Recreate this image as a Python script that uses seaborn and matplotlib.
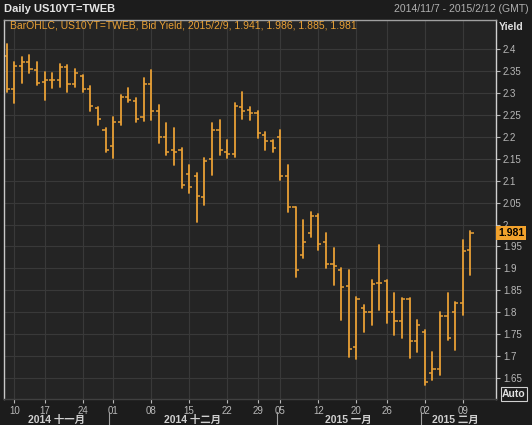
import numpy as np
import pandas as pd
import matplotlib
matplotlib.use("Agg")
import matplotlib.pyplot as plt
import matplotlib.transforms as mtransforms
import seaborn as sns
from matplotlib.ticker import FuncFormatter, FixedLocator

# Daily OHLC of US10YT=TWEB bid yield, 2014/11/7 - 2015/2/9
opens = [2.385, 2.31, 2.362, 2.372, 2.352, 2.325, 2.33, 2.33, 2.36, 2.32,
         2.34, 2.31, 2.265, 2.215, 2.18, 2.235, 2.29, 2.282, 2.245, 2.32,
         2.26, 2.20, 2.17, 2.17, 2.115, 2.11, 2.063, 2.15, 2.215, 2.165,
         2.16, 2.268, 2.262, 2.255, 2.205, 2.19, 2.20, 2.11, 2.04, 1.93,
         1.98, 2.02, 1.96, 1.91, 1.895, 1.86, 1.72, 1.81, 1.80, 1.867,
         1.87, 1.80, 1.78, 1.83, 1.735, 1.755, 1.66, 1.67, 1.79, 1.80,
         1.82, 1.941]
highs = [2.412, 2.371, 2.382, 2.387, 2.371, 2.349, 2.346, 2.366, 2.364, 2.355,
         2.341, 2.316, 2.269, 2.22, 2.246, 2.296, 2.311, 2.288, 2.334, 2.353,
         2.273, 2.231, 2.22, 2.175, 2.136, 2.118, 2.152, 2.232, 2.239, 2.193,
         2.277, 2.303, 2.269, 2.258, 2.212, 2.193, 2.216, 2.136, 2.041, 2.01,
         2.029, 2.025, 1.98, 1.946, 1.90, 1.896, 1.835, 1.816, 1.873, 1.953,
         1.873, 1.843, 1.832, 1.832, 1.782, 1.759, 1.709, 1.80, 1.843, 1.824,
         1.965, 1.986]
lows = [2.303, 2.277, 2.323, 2.346, 2.318, 2.284, 2.312, 2.314, 2.303, 2.314,
        2.303, 2.258, 2.227, 2.166, 2.151, 2.227, 2.28, 2.235, 2.236, 2.239,
        2.185, 2.159, 2.136, 2.083, 2.072, 2.006, 2.045, 2.113, 2.159, 2.152,
        2.155, 2.242, 2.239, 2.197, 2.17, 2.166, 2.102, 2.029, 1.881, 1.923,
        1.972, 1.942, 1.90, 1.862, 1.782, 1.698, 1.694, 1.754, 1.77, 1.805,
        1.775, 1.748, 1.74, 1.695, 1.709, 1.634, 1.645, 1.656, 1.737, 1.713,
        1.794, 1.885]
closes = [2.309, 2.362, 2.37, 2.355, 2.322, 2.33, 2.33, 2.36, 2.32, 2.345,
          2.31, 2.27, 2.24, 2.17, 2.235, 2.29, 2.285, 2.24, 2.32, 2.26,
          2.20, 2.165, 2.165, 2.09, 2.085, 2.065, 2.145, 2.215, 2.17, 2.16,
          2.27, 2.26, 2.255, 2.21, 2.19, 2.175, 2.11, 2.04, 1.895, 1.96,
          2.02, 1.955, 1.91, 1.905, 1.858, 1.715, 1.83, 1.80, 1.865, 1.866,
          1.80, 1.78, 1.83, 1.735, 1.77, 1.64, 1.67, 1.79, 1.742, 1.82,
          1.94, 1.981]

day_ticks = [1, 5, 10, 14, 19, 24, 29, 33, 36, 41, 46, 50, 55, 60]
day_labels = ["10", "17", "24", "01", "08", "15", "22", "29",
              "05", "12", "20", "26", "02", "09"]
yield_ticks = [1.65, 1.7, 1.75, 1.8, 1.85, 1.9, 1.95, 2.0,
               2.05, 2.1, 2.15, 2.2, 2.25, 2.3, 2.35, 2.4]
month_first_bar = [0, 14, 36, 55]
month_labels = ["2014 十一月", "2014 十二月", "2015 一月", "2015 二月"]
last_price = 1.981

BG = "#1c1c1c"
PANEL = "#242424"
GRID = "#393939"
ORANGE = "#e9a035"
TXT = "#b8b8b8"

sns.set_theme(style="dark", rc={"axes.facecolor": PANEL, "figure.facecolor": BG})
plt.rcParams["font.family"] = ["Liberation Sans", "Noto Sans CJK SC"]

W, H = 532, 425
fig = plt.figure(figsize=(W / 100, H / 100), dpi=100, facecolor=BG)
ax = fig.add_axes([4 / W, 1 - 399 / H, 492 / W, 379 / H])
ax.set_facecolor(PANEL)

idx = np.arange(len(highs))
n = len(idx)

# high-low lines, one unit per bar
wicks = pd.DataFrame({
    "x": np.repeat(idx, 2),
    "value": np.column_stack([lows, highs]).ravel(),
    "bar": np.repeat(idx, 2),
})
sns.lineplot(data=wicks, x="x", y="value", units="bar", estimator=None,
             sort=False, color=ORANGE, lw=1.3, ax=ax, legend=False)
# open (left) and close (right) ticks
ax.hlines(opens, idx - 0.42, idx, color=ORANGE, lw=1.1)
ax.hlines(closes, idx, idx + 0.42, color=ORANGE, lw=1.1)

ax.set_xlim(-0.355, 64.38)
ax.set_ylim(1.6016, 2.4669)
ax.set_xlabel("")
ax.set_ylabel("")

ax.yaxis.tick_right()
ax.yaxis.set_major_locator(FixedLocator(yield_ticks))
ax.yaxis.set_major_formatter(FuncFormatter(lambda v, p: f"{round(v, 2):g}"))
ax.set_xticks(day_ticks)
ax.set_xticklabels(day_labels)
ax.tick_params(axis="both", colors=TXT, labelsize=7, length=3, width=0.8,
               direction="out", pad=2)
ax.tick_params(axis="y", labelright=True, labelleft=False, right=True, left=False)
ax.tick_params(axis="x", bottom=True)
ax.grid(True, color=GRID, lw=0.8)

for side, col in [("left", "#c8c8c8"), ("top", "#a0a0a0"),
                  ("right", "#d0d0d0"), ("bottom", "#404040")]:
    ax.spines[side].set_visible(True)
    ax.spines[side].set_color(col)
    ax.spines[side].set_linewidth(1.0)

# month row
trans = mtransforms.blended_transform_factory(ax.transData, ax.transAxes)
bounds = month_first_bar + [n]
for k, lab in enumerate(month_labels):
    if k > 0:
        sep = month_first_bar[k] - 0.5
        ax.plot([sep, sep], [-0.035, -0.072], transform=trans, color="#a0a0a0",
                lw=0.8, clip_on=False)
    if k < len(month_labels) - 1:
        ax.text((bounds[k] + bounds[k + 1] - 1) / 2, -0.056, lab, transform=trans,
                ha="center", va="center", fontsize=7.5, color="#d0d0d0",
                fontweight="bold")
    else:
        ax.text(month_first_bar[k] + 0.9, -0.056, lab, transform=trans,
                ha="left", va="center", fontsize=7.5, color="#d0d0d0",
                fontweight="bold")

# last price marker on the right axis
ltrans = mtransforms.blended_transform_factory(ax.transAxes, ax.transData)
ax.text(1.004, last_price, f"{last_price:.3f}", transform=ltrans, ha="left",
        va="center", fontsize=7.5, fontweight="bold", color="black",
        bbox=dict(boxstyle="square,pad=0.2", fc="#f2a22c", ec="none"),
        clip_on=False, zorder=5)

# header texts
fig.text(4 / W, 1 - 9 / H, "Daily US10YT=TWEB", ha="left", va="center",
         fontsize=8, fontweight="bold", color="#e4e4e4")
fig.text(529 / W, 1 - 9 / H, "2014/11/7 - 2015/2/12 (GMT)", ha="right",
         va="center", fontsize=7.5, color="#b0b0b0")
fig.text(10 / W, 1 - 26 / H,
         "BarOHLC, US10YT=TWEB, Bid Yield, 2015/2/9, 1.941, 1.986, 1.885, 1.981",
         ha="left", va="center", fontsize=7.5, color=ORANGE)
fig.text(499 / W, 1 - 27 / H, "Yield", ha="left", va="center", fontsize=7.5,
         fontweight="bold", color="#e0e0e0")
fig.text(514 / W, 1 - 394 / H, "Auto", ha="center", va="center", fontsize=7.5,
         fontweight="bold", color="#e0e0e0",
         bbox=dict(boxstyle="square,pad=0.15", fc=BG, ec="#d0d0d0", lw=0.8))

fig.savefig("out.png", dpi=100, facecolor=fig.get_facecolor())
